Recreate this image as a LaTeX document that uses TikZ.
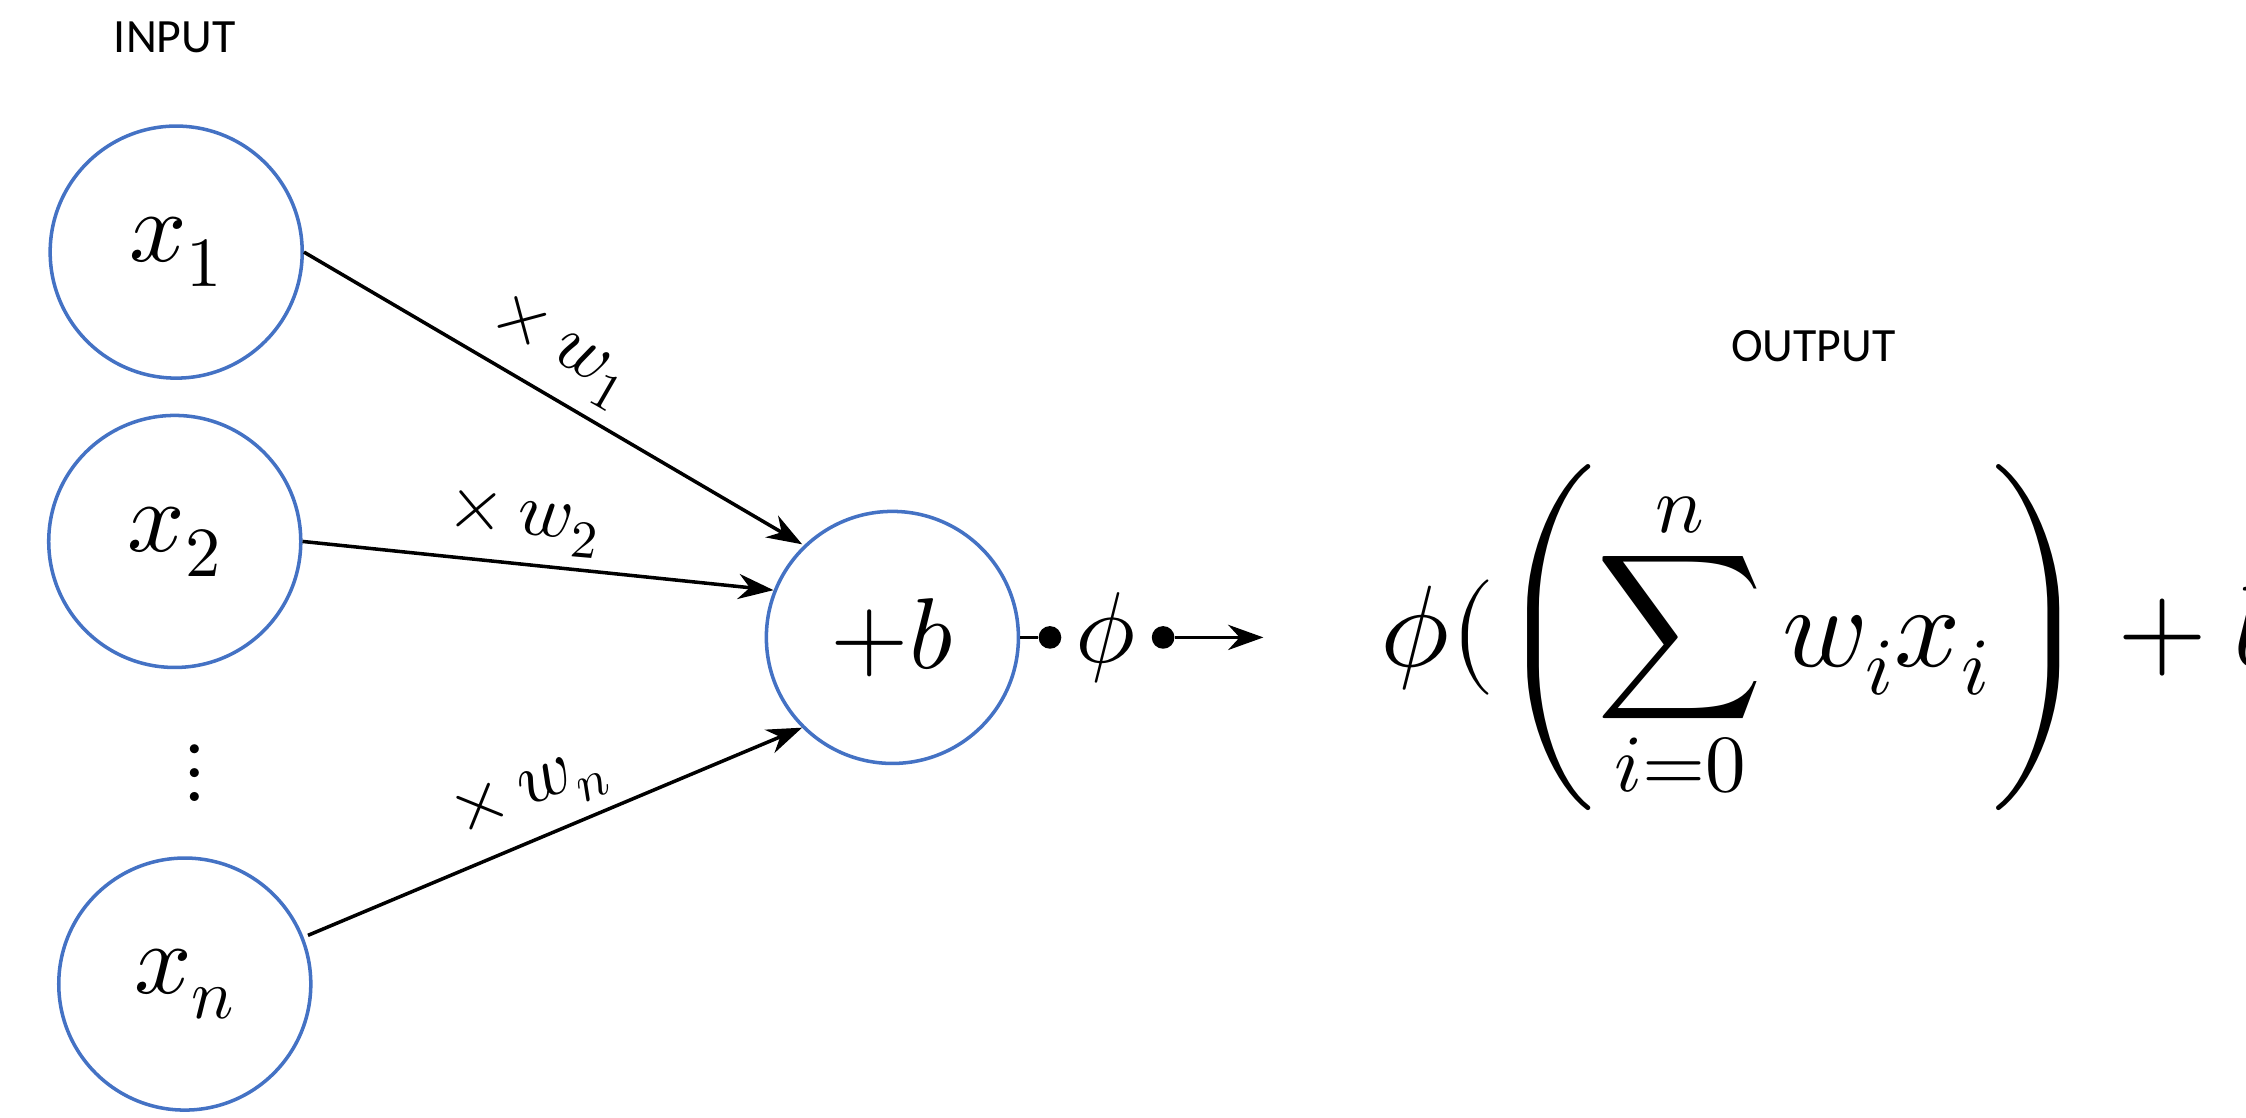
\documentclass[tikz,border=0pt]{standalone}
\usepackage{fontspec}
\usepackage{amsmath}
\usepackage{unicode-math}
\setmathfont{Latin Modern Math}
\setsansfont{Carlito}
\usetikzlibrary{arrows.meta}
\begin{document}
\begin{tikzpicture}[x=0.02cm,y=-0.02cm,
  neuron/.style={circle,draw={rgb,255:red,68;green,114;blue,196},line width=1.4pt,minimum size=3.52cm,inner sep=0pt,font=\fontsize{40}{44}\selectfont},
  conn/.style={line width=1.4pt,-{Stealth[length=14pt,width=10pt]}},
  wlab/.style={font=\fontsize{30}{34}\selectfont},
  captext/.style={font=\sffamily\fontsize{19}{22}\selectfont}]
\useasboundingbox (0,0) rectangle (1568,780);
\node[captext] (inp) at (122,26) {INPUT};
\node[captext] (outp) at (1266,242) {OUTPUT};
\node[neuron] (x1) at (123,176) {$x_1$};
\node[neuron] (x2) at (122,378) {$x_2$};
\node[neuron] (xn) at (129,687) {$x_n$};
\node[neuron] (b) at (623,445) {$+b$};
\node[font=\fontsize{34}{38}\selectfont] (dots) at (136,540) {$\vdots$};
\draw[conn] (x1.east) -- (560,380) coordinate (e1);
\draw[conn] (x2.east) -- (540,412) coordinate (e2);
\draw[conn] (xn) ++(86,-34) coordinate (sn) -- (560,508) coordinate (e3);
\node[wlab,rotate=-30] (w1) at (390,246) {$\times\, w_1$};
\node[wlab,rotate=-5] (w2) at (365,366) {$\times\, w_2$};
\node[wlab,rotate=23] (wn) at (370,556) {$\times\, w_n$};
\node[circle,fill,inner sep=0pt,minimum size=9pt] (d1) at (733,445) {};
\node[circle,fill,inner sep=0pt,minimum size=9pt] (d2) at (812,445) {};
\node[font=\fontsize{40}{44}\selectfont] (phi) at (772,445) {$\phi$};
\draw[line width=1.4pt] (b.east) -- (d1);
\coordinate (end) at (882,445);
\draw[conn] (d2) -- (end);
\node[font=\fontsize{46}{52}\selectfont] (f) at (1295,445) {$\displaystyle \phi(\left(\sum_{i=0}^{n} w_i x_i\right)+b)$};
\end{tikzpicture}
\end{document}
